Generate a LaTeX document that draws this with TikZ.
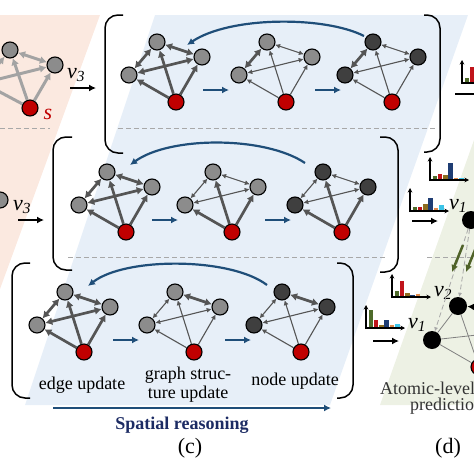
\documentclass[tikz,border=0pt]{standalone}
\usepackage{fontspec}
\setmainfont{Liberation Serif}
\usetikzlibrary{arrows.meta,calc}
\definecolor{peach}{HTML}{FBE9E0}
\definecolor{lblue}{HTML}{E7EFF8}
\definecolor{lgreen}{HTML}{EDF1E4}
\definecolor{navy}{HTML}{1F4E79}
\definecolor{ntext}{HTML}{1C2B63}
\definecolor{ggray}{HTML}{8C8C8C}
\definecolor{dgray}{HTML}{3F3F3F}
\definecolor{nred}{HTML}{C00000}
\definecolor{egray}{HTML}{555555}
\definecolor{pgray}{HTML}{A3A3A3}
\definecolor{dashgray}{HTML}{A8A8A8}
\definecolor{cg}{HTML}{4E6B2A}
\definecolor{cr}{HTML}{C0141B}
\definecolor{co}{HTML}{8C6D1F}
\definecolor{cn}{HTML}{1F3D73}
\definecolor{cor}{HTML}{E08A4C}
\definecolor{cc}{HTML}{3CC4E8}
\definecolor{darrow}{HTML}{4F6228}
\tikzset{
  gn/.style={circle,draw=black,line width=1.1pt,minimum size=16pt,inner sep=0pt},
  bn/.style={circle,fill=black,minimum size=18pt,inner sep=0pt},
  thk/.style={line width=2.7pt,draw=egray,>={Latex[length=7pt,width=8pt]}},
  thn/.style={line width=1.1pt,draw=egray,>={Latex[length=5pt,width=5pt]}},
  pg/.style={line width=3pt,draw=pgray,>={Latex[length=7pt,width=8pt]}},
  dsh/.style={draw=dashgray,line width=0.8pt,dash pattern=on 5pt off 3pt},
  barrow/.style={draw=navy,line width=2.2pt,-{Latex[length=7pt,width=7pt]}},
  blk/.style={draw=black,line width=2pt,-{Latex[length=7pt,width=7pt]}},
  bracket/.style={draw=black,line width=1.5pt,rounded corners=13pt},
  axis/.style={draw=black,line width=1.1pt,-{Stealth[length=4.5pt,width=4.5pt]}},
  lbl/.style={font=\fontsize{18}{19}\selectfont,inner sep=0pt},
  vlab/.style={font=\fontsize{22}{22}\selectfont,inner sep=0pt},
}
\newcommand\gnodes[4]{%
  \node[gn,fill=#4] (#1T) at (#2,#3) {};
  \node[gn,fill=#4] (#1R) at (#2+45,#3+15) {};
  \node[gn,fill=#4] (#1L) at (#2-28,#3+33) {};
  \node[gn,fill=nred] (#1S) at (#2+19,#3+60) {};
}
\newcommand\gedges[5]{%
  \draw[#2,<->] (#1T) -- (#1L);
  \draw[#3,<->] (#1T) -- (#1R);
  \draw[#4,<->] (#1L) -- (#1R);
  \draw[#5,->] (#1S) -- (#1L);
  \draw[#5,->] (#1S) -- (#1T);
  \draw[#5,->] (#1S) -- (#1R);
}
\newcommand\bchart[8]{%
  \foreach \c/\h [count=\i from 0] in {cg/#3,cr/#4,co/#5,cn/#6,cor/#7,cc/#8}
    \fill[\c] (#1+2.5+\i*5.3,#2) rectangle ++(4.6,-\h);
  \draw[axis] (#1,#2+1) -- (#1,#2-23);
  \draw[axis] (#1-1,#2) -- (#1+39,#2);
}
\begin{document}
\begin{tikzpicture}[x=1pt,y=-1pt]
\useasboundingbox (0,0) rectangle (474,474);
\clip (0,0) rectangle (474,474);
% backgrounds
\fill[peach] (0,15) -- (100,15) -- (0,289) -- cycle;
\fill[lblue] (155,15) -- (468,15) -- (330,405) -- (25,405) -- cycle;
\fill[lgreen] (474,140) -- (480,140) -- (480,405) -- (380,405) -- cycle;
% dashed separators
\draw[dsh] (0,128) -- (50,128);
\draw[dsh] (118,128) -- (435,128);
\draw[dsh] (68,257) -- (386,257);
\draw[dsh] (427,257) -- (474,257);
% brackets
\draw[bracket] (123,15) -- (105,15) -- (105,153) -- (123,153);
\draw[bracket] (424,15) -- (440,15) -- (440,152) -- (424,152);
\draw[bracket] (72,137) -- (53,137) -- (53,270) -- (72,270);
\draw[bracket] (380,137) -- (398,137) -- (398,272) -- (380,272);
\draw[bracket] (30,263) -- (12,263) -- (12,398) -- (30,398);
\draw[bracket] (337,263) -- (353,263) -- (353,398) -- (337,398);
% peach partial graph
\node[gn,minimum size=16pt,fill=ggray] (pA) at (10,50) {};
\node[gn,minimum size=16pt,fill=ggray] (pB) at (55,65) {};
\node[gn,minimum size=16pt,fill=ggray] (pL) at (-17,83) {};
\node[gn,minimum size=16pt,fill=nred] (pS) at (30,108) {};
\draw[pg,<->] (pA) -- (pB);
\draw[pg,<->] (pA) -- (pL);
\draw[pg,<->] (pL) -- (pB);
\draw[pg,->] (pS) -- (pA);
\draw[pg,->] (pS) -- (pL);
\draw[pg,->] (pS) -- (pB);
\node[vlab,text=nred] (sl) at (48,114) {\textit{s}};
\node[vlab] (v3a) at (76,75) {\textit{v}\textsubscript{\textit{3}}};
\coordinate (a1s) at (70,88); \coordinate (a1e) at (96,88);
\draw[blk] (a1s) -- (a1e);
\node[gn,minimum size=16pt,fill=ggray] (pN) at (0,200) {};
\node[vlab] (v3b) at (22,207) {\textit{v}\textsubscript{\textit{3}}};
\coordinate (a2s) at (18,220); \coordinate (a2e) at (44,220);
\draw[blk] (a2s) -- (a2e);
% row 1
\gnodes{ra}{157}{42}{ggray}
\gnodes{rb}{267}{42}{ggray}
\gnodes{rc}{373}{42}{dgray}
\gedges{ra}{thk}{thk}{thk}{thk}
\gedges{rb}{thk}{thn}{thn}{thn}
\gedges{rc}{thk}{thn}{thn}{thn}
\draw[barrow] (203,90) -- (229,90);
\draw[barrow] (315,90) -- (341,90);
\coordinate (f1s) at (364,36); \coordinate (f1e) at (187,45);
\draw[barrow] (f1s) .. controls (325,16) and (230,16) .. (f1e);
% row 2
\gnodes{sa}{107}{172}{ggray}
\gnodes{sb}{213}{172}{ggray}
\gnodes{sc}{323}{172}{dgray}
\gedges{sa}{thk}{thk}{thk}{thk}
\gedges{sb}{thn}{thn}{thn}{thk}
\gedges{sc}{thn}{thn}{thn}{thk}
\draw[barrow] (152,220) -- (178,220);
\draw[barrow] (265,220) -- (291,220);
\coordinate (f2s) at (305,163); \coordinate (f2e) at (130,165);
\draw[barrow] (f2s) .. controls (265,136) and (170,136) .. (f2e);
% row 3
\gnodes{ta}{65}{292}{ggray}
\gnodes{tb}{175}{292}{ggray}
\gnodes{tc}{282}{292}{dgray}
\gedges{ta}{thk}{thk}{thk}{thk}
\gedges{tb}{thn}{thk}{thn}{thn}
\gedges{tc}{thn}{thk}{thn}{thn}
\draw[barrow] (113,340) -- (139,340);
\draw[barrow] (225,340) -- (251,340);
\coordinate (f3s) at (267,285); \coordinate (f3e) at (88,286);
\draw[barrow] (f3s) .. controls (230,257) and (125,257) .. (f3e);
% labels
\node[lbl] (l1) at (82,385) {edge update};
\node[lbl,align=center] (l2) at (188,385) {graph struc-\\ture update};
\node[lbl] (l3) at (295,381) {node update};
\coordinate (srs) at (53,408); \coordinate (sre) at (331,408);
\draw[barrow] (srs) -- (sre);
\node[lbl,font=\fontsize{18}{19}\selectfont\bfseries,text=ntext] (sr) at (182,425) {Spatial reasoning};
\node[lbl,font=\fontsize{22}{22}\selectfont] (pc) at (190,448) {(c)};
\node[lbl,font=\fontsize{22}{22}\selectfont] (pd) at (448,448) {(d)};
% right part (d)
\bchart{462}{83}{5}{16}{6}{12}{3}{3}
\coordinate (a3s) at (455,94); \coordinate (a3e) at (482,94);
\draw[blk] (a3s) -- (a3e);
\bchart{430}{180}{4}{6}{5}{17}{2}{2}
\bchart{410}{211}{4}{4}{7}{13}{3}{6}
\node[vlab] (v1a) at (458,206) {\textit{v}\textsubscript{\textit{1}}};
\coordinate (a4s) at (412,221); \coordinate (a4e) at (438,221);
\draw[blk] (a4s) -- (a4e);
\node[bn] (v1t) at (471,220) {};
\bchart{392}{297}{6}{16}{4}{2}{3}{1.5}
\node[vlab] (v2l) at (443,293) {\textit{v}\textsubscript{\textit{2}}};
\bchart{366}{328}{18}{8}{3}{8}{3}{4}
\node[vlab] (v1l) at (417,325) {\textit{v}\textsubscript{\textit{1}}};
\coordinate (a5s) at (373,341); \coordinate (a5e) at (399,341);
\draw[blk] (a5s) -- (a5e);
\node[bn] (v2) at (458,306) {};
\node[bn] (v1b) at (432,340) {};
\node[gn,fill=nred,minimum size=16pt] (rdn) at (479,367) {};
\coordinate (gx1) at (495,333);
\draw[draw=gray,line width=0.8pt] (v1b) -- (v2);
\draw[draw=gray,line width=0.8pt] (v1b) -- (gx1);
\draw[draw=gray,line width=0.8pt] (v1b) -- (rdn);
\draw[draw=gray,line width=0.8pt] (v2) -- (rdn);
\coordinate (vin) at (495,308);
\draw[blk,line width=2.5pt] (vin) -- (v2);
\draw[dsh,-{Latex[length=4pt,width=4pt]}] (v1t) -- (v2);
\draw[dsh,-{Latex[length=4pt,width=4pt]}] (v1t) -- (v1b);
\coordinate (g1s) at (463,245); \coordinate (g1e) at (452,272);
\coordinate (g2s) at (477,245); \coordinate (g2e) at (466,272);
\draw[draw=darrow,line width=2.5pt,-{Latex[length=7pt,width=7pt]}] (g1s) -- (g1e);
\draw[draw=darrow,line width=2.5pt,-{Latex[length=7pt,width=7pt]}] (g2s) -- (g2e);
\node[lbl,anchor=west,text=black!80] (at1) at (380,388) {Atomic-level};
\node[lbl,anchor=west,text=black!80] (at2) at (410,406) {prediction};
\end{tikzpicture}
\end{document}
